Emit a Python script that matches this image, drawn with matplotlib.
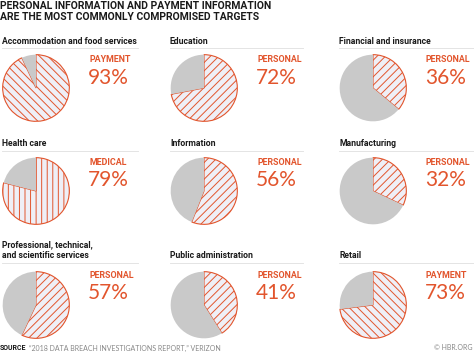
import matplotlib
matplotlib.use("Agg")
import matplotlib.pyplot as plt

# data
industries = [
    "Accommodation and food services", "Education", "Financial and insurance",
    "Health care", "Information", "Manufacturing",
    "Professional, technical,\nand scientific services", "Public administration", "Retail",
]
data_types = ["PAYMENT", "PERSONAL", "PERSONAL",
              "MEDICAL", "PERSONAL", "PERSONAL",
              "PERSONAL", "PERSONAL", "PAYMENT"]
shares = [93, 72, 36, 79, 56, 32, 57, 41, 73]
hatches = {"PAYMENT": "\\\\\\\\", "PERSONAL": "////", "MEDICAL": "|||"}

W, H = 474, 356
ORANGE = "#e2552d"
GRAY = "#c9c9c9"
FILL = "#efeff6"
DARK = "#1a1a1a"

plt.rcParams["hatch.linewidth"] = 0.7

fig = plt.figure(figsize=(W / 100, H / 100), dpi=100)
fig.patch.set_facecolor("white")


def fx(x):
    return x / W


def fy(y):
    return 1 - y / H


col_pie_x = [36, 204, 373]
col_title_x = [2, 170, 339]
col_line_end = [138, 303, 474]
col_label_x = [89, 257, 426]
row_pie_y = [88, 191, 305]
row_title_y = [41, 144, 255]
row_line_y = [48, 151, 263]
row_label_y = [60, 163, 276]
row_pct_y = [78, 180, 293]
r = 34

bold_font = ["Roboto", "DejaVu Sans"]
light_font = ["Lato", "DejaVu Sans"]

fig.text(fx(0), fy(6), "PERSONAL INFORMATION AND PAYMENT INFORMATION",
         fontsize=7.5, fontweight="bold", family=bold_font, color=DARK, va="center")
fig.text(fx(0), fy(17), "ARE THE MOST COMMONLY COMPROMISED TARGETS",
         fontsize=7.5, fontweight="bold", family=bold_font, color=DARK, va="center")

for i, (name, kind, val) in enumerate(zip(industries, data_types, shares)):
    row, col = divmod(i, 3)
    cx, cy = col_pie_x[col], row_pie_y[row]

    # panel title + thin rule
    ty = row_title_y[row] - 5 if "\n" in name else row_title_y[row]
    fig.text(fx(col_title_x[col]), fy(ty), name, fontsize=6.2,
             fontweight="bold", family=bold_font, color=DARK, va="center",
             linespacing=1.2)
    fig.add_artist(plt.Line2D([fx(col_title_x[col]), fx(col_line_end[col])],
                              [fy(row_line_y[row]), fy(row_line_y[row])],
                              color="#e4e4e4", lw=0.7))

    ax = fig.add_axes([fx(cx - r), fy(cy + r), 2 * r / W, 2 * r / H])
    wedges, _ = ax.pie([val, 100 - val], startangle=90, counterclock=False,
                       colors=[FILL, GRAY], radius=1)
    wedges[0].set_edgecolor(ORANGE)
    wedges[0].set_hatch(hatches[kind])
    wedges[0].set_linewidth(0.8)
    wedges[1].set_linewidth(0)
    ax.set_xlim(-1.02, 1.02)
    ax.set_ylim(-1.02, 1.02)
    ax.axis("off")

    fig.text(fx(col_label_x[col]), fy(row_label_y[row]), kind, fontsize=6.4,
             fontweight="bold", family=bold_font, color=ORANGE, va="center")
    fig.text(fx(col_label_x[col] - 1), fy(row_pct_y[row]), f"{val}%", fontsize=15,
             fontweight="normal", family=light_font, color=ORANGE, va="center")

fig.text(fx(0), fy(348), "SOURCE", fontsize=5, fontweight="bold",
         family=bold_font, color=DARK, va="center")
fig.text(fx(29), fy(348), "\u201c2018 DATA BREACH INVESTIGATIONS REPORT,\u201d VERIZON",
         fontsize=5, family=light_font, color="#888888", va="center")
fig.text(fx(472), fy(348), "\u00a9 HBR.ORG", fontsize=5, family=light_font,
         color="#888888", va="center", ha="right")

fig.savefig("out.png", dpi=100)
